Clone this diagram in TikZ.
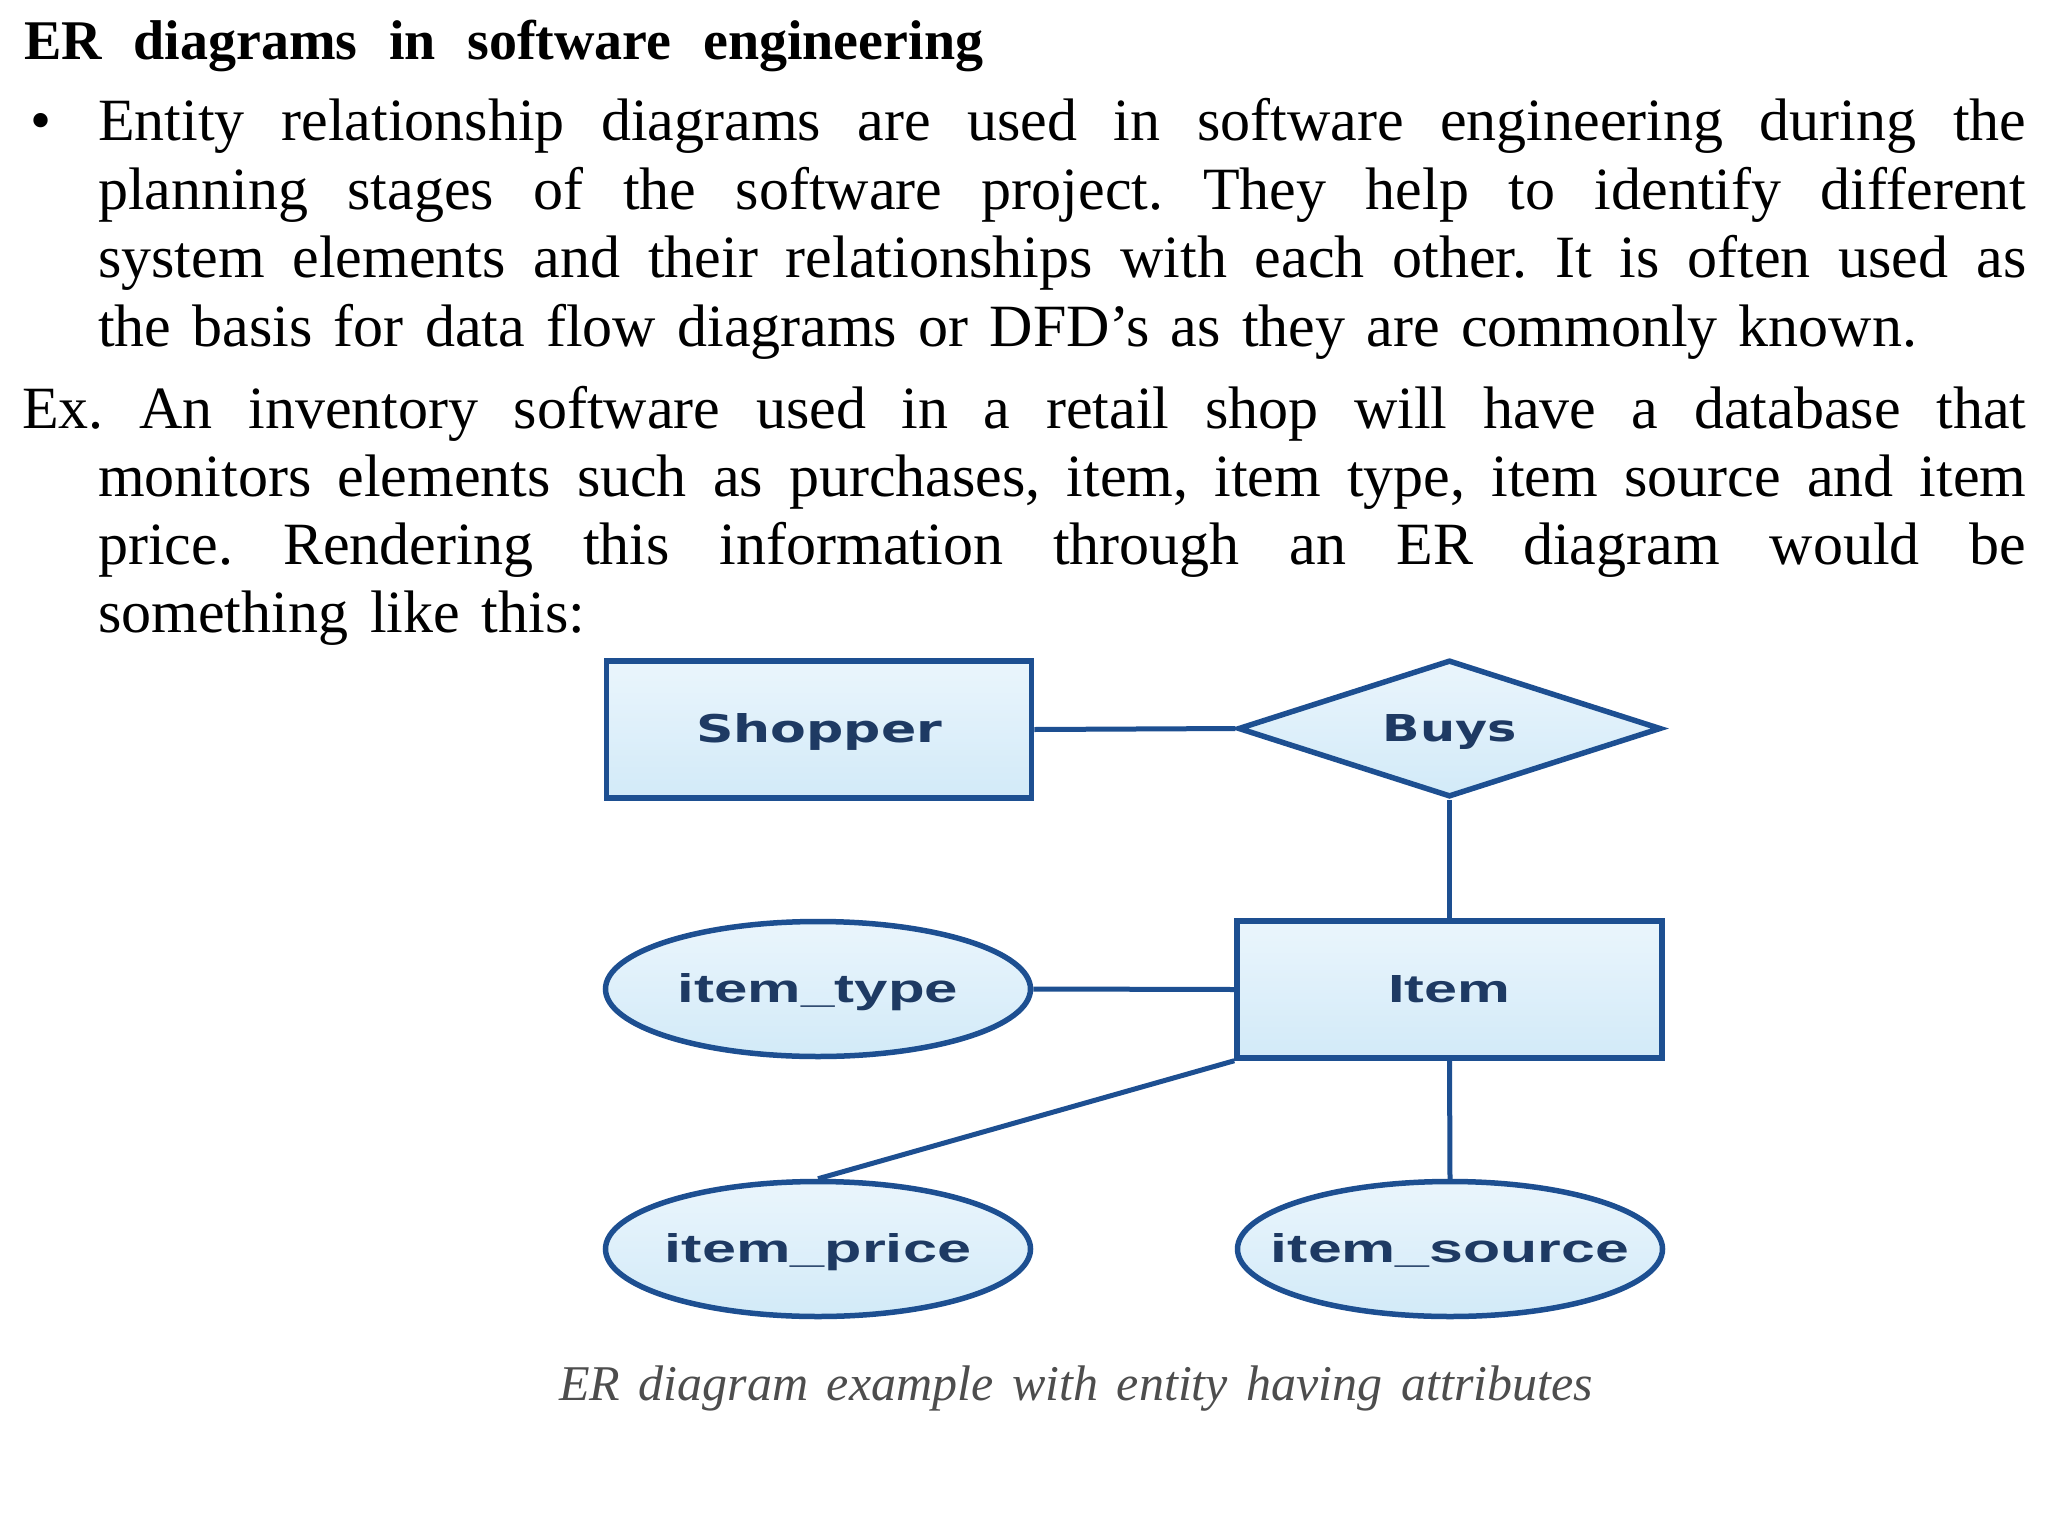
\documentclass[tikz,border=0pt]{standalone}
\usepackage{fontspec}
\setmainfont{Liberation Serif}
\newfontfamily\dvsans{DejaVu Sans}
\newfontfamily\lsans{Liberation Sans}
\usetikzlibrary{shapes.geometric}
\definecolor{erline}{HTML}{1D4F91}
\definecolor{ertext}{HTML}{1E3A63}
\definecolor{ertop}{HTML}{EAF5FC}
\definecolor{erbot}{HTML}{D2EAF8}
\definecolor{capgray}{HTML}{4D4D4D}
\newcommand\jline[2]{\makebox[#1pt][s]{#2}}
\newcommand\erlab[3]{\makebox[0pt]{\resizebox{#2pt}{#3pt}{#1}}}
\frenchspacing
\begin{document}
\begin{tikzpicture}[x=1pt,y=-1pt,
  bodytxt/.style={anchor=base west, inner sep=0pt, font=\frenchspacing\fontsize{60}{68}\selectfont},
  titletxt/.style={anchor=base west, inner sep=0pt, font=\frenchspacing\bfseries\fontsize{56}{66}\selectfont},
  captxt/.style={anchor=base, inner sep=0pt, text=capgray, font=\frenchspacing\itshape\fontsize{50}{58}\selectfont},
  erfill/.style={draw=erline, line width=5.5pt, top color=ertop, bottom color=erbot,
     inner sep=0pt, text height=26pt, text depth=0pt, text=ertext},
  entbox/.style={erfill, rectangle, minimum width=425pt, minimum height=137pt},
  relbox/.style={erfill, diamond, minimum width=423pt, minimum height=137pt},
  attrbox/.style={erfill, ellipse, minimum width=425pt, minimum height=135pt},
  erlink/.style={draw=erline, line width=5pt}
]
\useasboundingbox (0,0) rectangle (2048,1536);
\fill[white] (0,0) rectangle (2048,1536);

\node[titletxt] (title) at (24,60) {\jline{959}{ER diagrams in software engineering}};
\node[bodytxt] (bullet) at (30,141) {•};
\node[bodytxt] (l1) at (98,141) {\jline{1928}{Entity relationship diagrams are used in software engineering during the}};
\node[bodytxt] (l2) at (98,209) {\jline{1928}{planning stages of the software project. They help to identify different}};
\node[bodytxt] (l3) at (98,277) {\jline{1928}{system elements and their relationships with each other. It is often used as}};
\node[bodytxt] (l4) at (98,346) {\jline{1819}{the basis for data flow diagrams or DFD’s as they are commonly known.}};
\node[bodytxt] (l5) at (22,428) {\jline{2004}{Ex. An inventory software used in a retail shop will have a database that}};
\node[bodytxt] (l6) at (98,496) {\jline{1928}{monitors elements such as purchases, item, item type, item source and item}};
\node[bodytxt] (l7) at (98,564) {\jline{1928}{price. Rendering this information through an ER diagram would be}};
\node[bodytxt] (l8) at (98,632) {\jline{487}{something like this:}};

\fill[white] (580,634) rectangle (1720,1330);

\node[entbox] (shopper) at (819,729.5) {\erlab{\dvsans\bfseries Shopper}{246}{29}};
\node[relbox] (buys) at (1449.5,728.5) {\erlab{\dvsans\bfseries Buys}{134}{27}};
\node[entbox] (item) at (1449.5,989.5) {\erlab{\lsans\bfseries Item}{122}{27}};
\node[attrbox] (itype) at (818,989) {\erlab{\lsans\bfseries item\_type}{280}{29}};
\node[attrbox] (iprice) at (818,1249) {\erlab{\lsans\bfseries item\_price}{306}{29}};
\node[attrbox] (isource) at (1450,1249) {\erlab{\lsans\bfseries item\_source}{358}{29}};

\draw[erlink] (shopper.east) -- (buys.west);
\draw[erlink] (buys.south) -- (item.north);
\draw[erlink] (itype.east) -- (item.west);
\draw[erlink] (item.south west) -- (iprice.north);
\draw[erlink] (item.south) -- (isource.north);

\node[captxt] (caption) at (1076,1400) {\jline{1034}{ER diagram example with entity having attributes}};
\end{tikzpicture}
\end{document}
